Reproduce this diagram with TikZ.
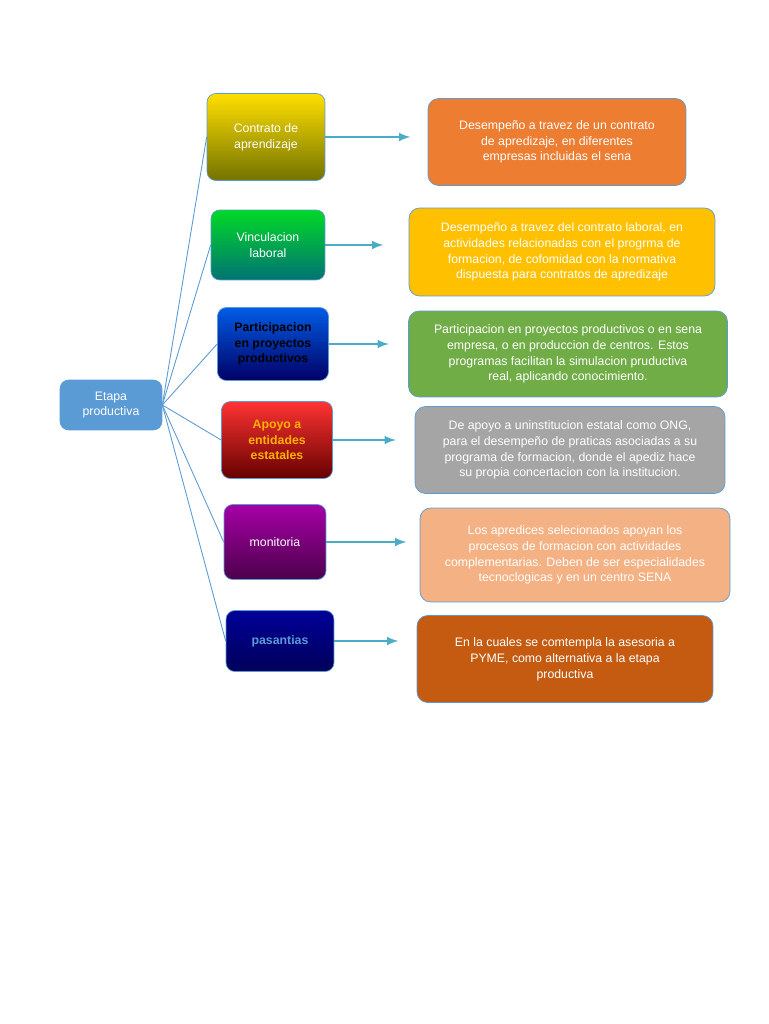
\documentclass[tikz,border=0pt]{standalone}
\usepackage{fontspec}
\setmainfont{Liberation Sans}
\usetikzlibrary{positioning,shapes,arrows}

\definecolor{rootblue}{HTML}{5B9BD5}
\definecolor{linkcyan}{HTML}{4BACC6}

\begin{document}
\begin{tikzpicture}[
    x=0.02cm, y=-0.02cm,
    every node/.style={font=\fontsize{7}{9}\selectfont},
    stage/.style={draw=rootblue, rounded corners=5pt, align=center, text=white, inner sep=2pt},
    detail/.style={draw=rootblue, rounded corners=6pt, align=center, text=white, inner sep=3pt},
    branch/.style={draw=rootblue, line width=0.5pt},
    arrow/.style={-latex, draw=linkcyan, line width=1.2pt}
]
\useasboundingbox (0,0) rectangle (768,1024);

% Root
\node[stage, fill=rootblue, minimum width=2.04cm, minimum height=1cm] (etapa) at (111,405) {Etapa\\productiva};

% Stages
\node[stage, top color=yellow!75!orange, bottom color=olive!90!black, minimum width=2.36cm, minimum height=1.74cm] (contrato) at (266,137) {Contrato de\\aprendizaje};
\node[stage, top color=green!70!teal, bottom color=teal!90!black, minimum width=2.28cm, minimum height=1.4cm] (vinculacion) at (268,245) {Vinculacion\\laboral};
\node[stage, top color=blue!60!cyan!90!black, bottom color=blue!40!black, text=black, font=\fontsize{7}{9}\selectfont\bfseries, minimum width=2.22cm, minimum height=1.46cm] (participacion) at (273,344) {Participacion\\en proyectos\\productivos};
\node[stage, top color=red!80, bottom color=red!40!black, text=orange!60!yellow, font=\fontsize{7}{9}\selectfont\bfseries, minimum width=2.22cm, minimum height=1.54cm] (apoyo) at (277,440) {Apoyo a\\entidades\\estatales};
\node[stage, top color=violet!70!magenta, bottom color=violet!60!black, minimum width=2.04cm, minimum height=1.5cm] (monitoria) at (275,542) {monitoria};
\node[stage, top color=blue!60!black, bottom color=blue!35!black, text=rootblue, font=\fontsize{7}{9}\selectfont\bfseries, minimum width=2.16cm, minimum height=1.22cm] (pasantias) at (280,641) {pasantias};

% Details
\node[detail, fill={rgb,255:red,237;green,125;blue,49}, minimum width=5.16cm, minimum height=1.74cm] (d1) at (557,142) {Desempeño a travez de un contrato\\de apredizaje, en diferentes\\empresas incluidas el sena};
\node[detail, fill={rgb,255:red,255;green,192;blue,0}, minimum width=6.12cm, minimum height=1.76cm] (d2) at (562,252) {Desempeño a travez del contrato laboral, en\\actividades relacionadas con el progrma de\\formacion, de cofomidad con la normativa\\dispuesta para contratos de apredizaje};
\node[detail, fill={rgb,255:red,112;green,173;blue,71}, minimum width=6.38cm, minimum height=1.72cm] (d3) at (568,354) {Participacion en proyectos productivos o en sena\\empresa, o en produccion de centros. Estos\\programas facilitan la simulacion pruductiva\\real, aplicando conocimiento.};
\node[detail, fill={rgb,255:red,165;green,165;blue,165}, minimum width=6.2cm, minimum height=1.74cm] (d4) at (570,450) {De apoyo a uninstitucion estatal como ONG,\\para el desempeño de praticas asociadas a su\\programa de formacion, donde el apediz hace\\su propia concertacion con la institucion.};
\node[detail, fill={rgb,255:red,244;green,177;blue,131}, minimum width=6.2cm, minimum height=1.88cm] (d5) at (575,555) {Los apredices selecionados apoyan los\\procesos de formacion con actividades\\complementarias. Deben de ser especialidades\\tecnoclogicas y en un centro SENA};
\node[detail, fill={rgb,255:red,197;green,90;blue,17}, minimum width=5.92cm, minimum height=1.74cm] (d6) at (565,659) {En la cuales se comtempla la asesoria a\\PYME, como alternativa a la etapa\\productiva};

% Branches
\foreach \s in {contrato,vinculacion,participacion,apoyo,monitoria,pasantias}
  \draw[branch] (etapa.east) -- (\s.west);

% Arrows
\draw[arrow] (contrato.east) -- ++(85,0);
\draw[arrow] (vinculacion.east) -- ++(58,0);
\draw[arrow] (participacion.east) -- ++(60,0);
\draw[arrow] (apoyo.east) -- ++(63,0);
\draw[arrow] (monitoria.east) -- ++(80,0);
\draw[arrow] (pasantias.east) -- ++(64,0);

\end{tikzpicture}
\end{document}
